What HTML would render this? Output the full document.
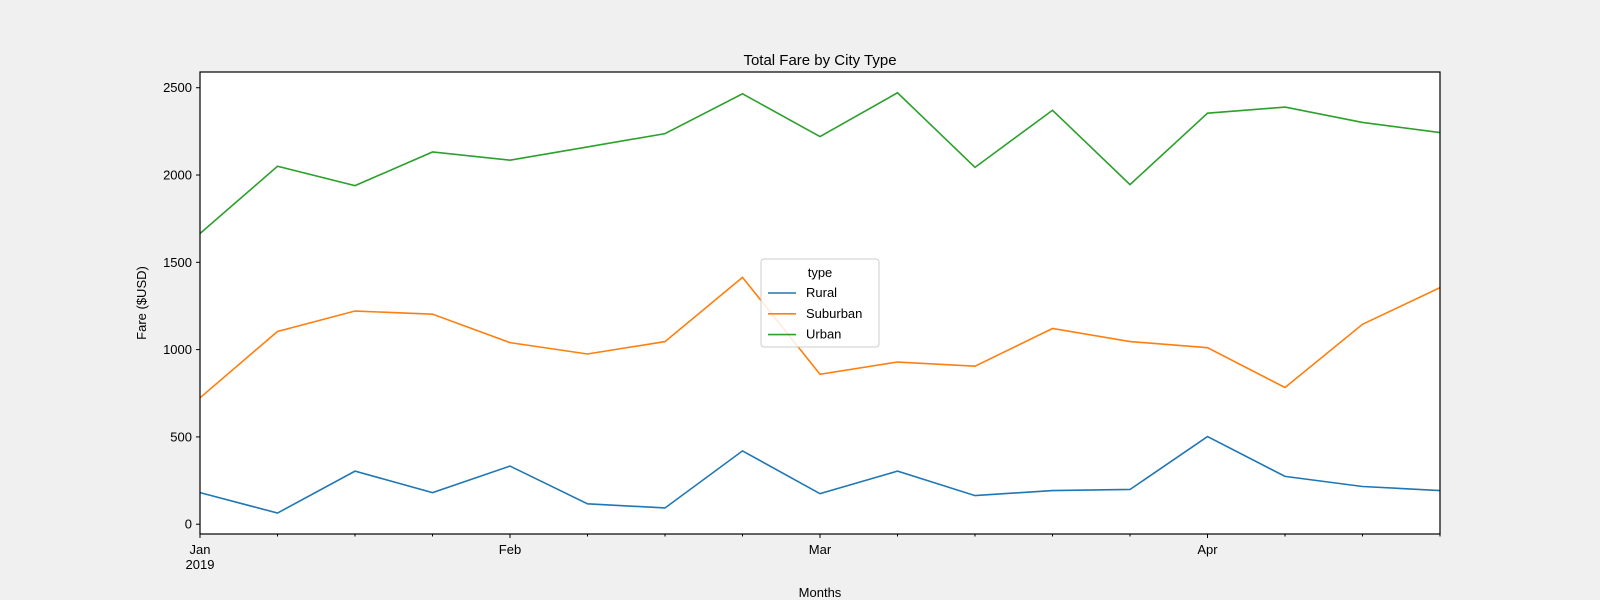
<!DOCTYPE html>
<html><head><meta charset="utf-8"><style>
body{margin:0;background:#f0f0f0;}
svg{display:block;font-family:"Liberation Sans","DejaVu Sans",sans-serif;}
</style></head><body>
<svg id="chart" width="1600" height="600">
<rect x="0" y="0" width="1600" height="600" fill="#f0f0f0"/>
<rect x="200" y="72" width="1240" height="462" fill="#fff"/>
<g id="grid"></g>
<g id="lines"></g>
<rect x="200" y="72" width="1240" height="462" fill="none" stroke="#000" stroke-width="1.2"/>
<text x="820" y="65" text-anchor="middle" font-size="15">Total Fare by City Type</text>
<text x="820" y="597" text-anchor="middle" font-size="13">Months</text>
<text transform="translate(146,303) rotate(-90)" text-anchor="middle" font-size="13">Fare ($USD)</text>
<g>
<rect x="761" y="259" width="118" height="88" rx="3" fill="#fff" fill-opacity="0.85" stroke="#ccc"/>
<text x="820" y="277" text-anchor="middle" font-size="13">type</text>
<g id="legendEntries"></g>
</g>
</svg>
<script>
const categories=["W1","W2","W3","W4","W5","W6","W7","W8","W9","W10","W11","W12","W13","W14","W15","W16","W17"];
const rural=[181,64,304,181,333,117,93,420,175,304,164,193,199,502,274,216,193];
const suburban=[724,1104,1221,1203,1040,975,1046,1414,859,929,905,1121,1046,1011,783,1145,1355];
const urban=[1665,2050,1939,2132,2085,2161,2237,2465,2220,2471,2044,2371,1945,2354,2389,2301,2243];
const yTicks=[0,500,1000,1500,2000,2500];
const monthTickIdx=[0,4,8,13];
const monthLabels=["Jan","Feb","Mar","Apr"];
const seriesNames=["Rural","Suburban","Urban"];
const colors=["#1f77b4","#ff7f0e","#2ca02c"];
const NS="http://www.w3.org/2000/svg";
const L=200,R=1440,T=72,B=534,yMin=-56,yMax=2590;
const xs=i=>L+i*(R-L)/(categories.length-1);
const ys=v=>B-(v-yMin)/(yMax-yMin)*(B-T);
const g=document.getElementById('grid'),lg=document.getElementById('lines');
function mk(t,a,p){const e=document.createElementNS(NS,t);for(const k in a)e.setAttribute(k,a[k]);p.appendChild(e);return e;}
yTicks.forEach(v=>{
 const l=mk('line',{x1:L-4,x2:L,y1:ys(v),y2:ys(v),stroke:'#000'},g);
 
 
 const t=mk('text',{x:L-8,y:ys(v)+4.5,'text-anchor':'end','font-size':13},g);t.textContent=v;
 
 
});
categories.forEach((c,i)=>{
 const major=monthTickIdx.includes(i);
 const l=mk('line',{x1:xs(i),x2:xs(i),y1:B,y2:B+(major?4:2.5),stroke:'#000'},g);
 
 
});
monthTickIdx.forEach((idx,k)=>{
 const t=mk('text',{x:xs(idx),y:B+20,'text-anchor':'middle','font-size':13},g);t.textContent=monthLabels[k];
 
 
});
const yr=mk('text',{x:xs(0),y:B+35,'text-anchor':'middle','font-size':13},g);yr.textContent="2019";


[rural,suburban,urban].forEach((s,k)=>{
 const p=mk('polyline',{points:s.map((v,i)=>xs(i)+','+ys(v)).join(' '),fill:'none',stroke:colors[k],'stroke-width':1.6},lg);
 
 
});
const le=document.getElementById('legendEntries');
seriesNames.forEach((n,k)=>{
 const y=297+k*20.8;
 const l=mk('line',{x1:768,x2:796,y1:y-4,y2:y-4,stroke:colors[k],'stroke-width':1.6},le);
 
 
 const t=mk('text',{x:806,y:y,'font-size':13},le);t.textContent=n;
 
 
});
</script>
</body></html>
